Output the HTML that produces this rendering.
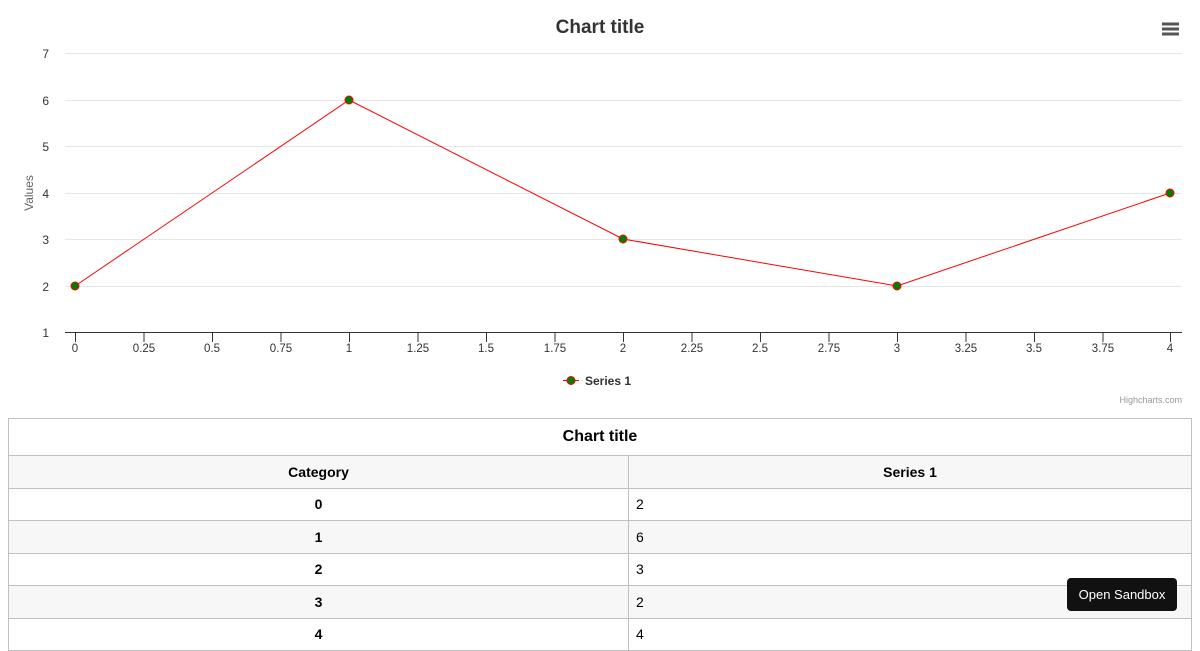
<!DOCTYPE html><html><head><style>
body{margin:0;width:1200px;height:630px;overflow:hidden;background:#fff;font-family:"Liberation Sans",sans-serif;position:relative}
table{position:absolute;left:8px;top:418px;width:1184px;border-collapse:collapse;font-size:14px;color:#000}
td,th{border:1px solid #c0c0c0;height:31.5px;padding:0 7px}
caption{border:1px solid #c0c0c0;border-bottom:none;height:36px;line-height:36px;font-weight:bold;font-size:16px}
th{background:#fff}
tr.h th{background:#f7f7f7}
tr.g td,tr.g th{background:#f7f7f7}
.b{position:absolute;left:1067px;top:578px;width:110px;height:33px;background:#111;color:#fff;border-radius:4px;font-size:13px;text-align:center;line-height:33px}
</style></head><body>
<svg width="1200" height="418" style="position:absolute;left:0;top:0" font-family="Liberation Sans,sans-serif">
<text x="600" y="33" text-anchor="middle" font-size="19" font-weight="bold" fill="#333">Chart title</text>
<g stroke="#555" stroke-width="3"><line x1="1162" y1="24" x2="1179" y2="24"/><line x1="1162" y1="29" x2="1179" y2="29"/><line x1="1162" y1="34" x2="1179" y2="34"/></g>
<g stroke="#e6e6e6"><line x1="65" x2="1182" y1="53.5" y2="53.5"/><line x1="65" x2="1182" y1="100.5" y2="100.5"/><line x1="65" x2="1182" y1="146.5" y2="146.5"/><line x1="65" x2="1182" y1="193.5" y2="193.5"/><line x1="65" x2="1182" y1="239.5" y2="239.5"/><line x1="65" x2="1182" y1="286.5" y2="286.5"/></g>
<line x1="65" x2="1182" y1="332.5" y2="332.5" stroke="#333"/>
<g font-size="12" fill="#333" text-anchor="end"><text x="49" y="58">7</text><text x="49" y="105">6</text><text x="49" y="151">5</text><text x="49" y="198">4</text><text x="49" y="244">3</text><text x="49" y="291">2</text><text x="49" y="337">1</text></g>
<text transform="translate(33,193) rotate(-90)" text-anchor="middle" font-size="12" fill="#666">Values</text>
<g font-size="11.5" fill="#333" text-anchor="middle" stroke="#333">
<line x1="75.5" x2="75.5" y1="332" y2="342"/><line x1="144" x2="144" y1="332" y2="342"/><line x1="212.5" x2="212.5" y1="332" y2="342"/><line x1="281" x2="281" y1="332" y2="342"/><line x1="349.5" x2="349.5" y1="332" y2="342"/><line x1="418" x2="418" y1="332" y2="342"/><line x1="486.5" x2="486.5" y1="332" y2="342"/><line x1="555" x2="555" y1="332" y2="342"/><line x1="623.5" x2="623.5" y1="332" y2="342"/><line x1="692" x2="692" y1="332" y2="342"/><line x1="760.5" x2="760.5" y1="332" y2="342"/><line x1="829" x2="829" y1="332" y2="342"/><line x1="897.5" x2="897.5" y1="332" y2="342"/><line x1="966" x2="966" y1="332" y2="342"/><line x1="1034.5" x2="1034.5" y1="332" y2="342"/><line x1="1103" x2="1103" y1="332" y2="342"/><line x1="1170.5" x2="1170.5" y1="332" y2="342"/>
<g stroke="none"><text x="75" y="352">0</text><text x="144" y="352">0.25</text><text x="212" y="352">0.5</text><text x="281" y="352">0.75</text><text x="349" y="352">1</text><text x="418" y="352">1.25</text><text x="486" y="352">1.5</text><text x="555" y="352">1.75</text><text x="623" y="352">2</text><text x="692" y="352">2.25</text><text x="760" y="352">2.5</text><text x="829" y="352">2.75</text><text x="897" y="352">3</text><text x="966" y="352">3.25</text><text x="1034" y="352">3.5</text><text x="1103" y="352">3.75</text><text x="1170" y="352">4</text></g></g>
<polyline points="75,286 349,100 623,239 897,286 1170,193" fill="none" stroke="red" stroke-width="1"/>
<g fill="green" stroke="red" stroke-width="1"><circle cx="75" cy="286" r="4"/><circle cx="349" cy="100" r="4"/><circle cx="623" cy="239" r="4"/><circle cx="897" cy="286" r="4"/><circle cx="1170" cy="193" r="4"/></g>
<line x1="563" x2="579" y1="380.5" y2="380.5" stroke="red"/><circle cx="571" cy="380.5" r="4" fill="green" stroke="red"/>
<text x="585" y="385" font-size="12" font-weight="bold" fill="#333">Series 1</text>
<text x="1182" y="403" text-anchor="end" font-size="9" fill="#999">Highcharts.com</text>
</svg>
<table><caption>Chart title</caption>
<tr class="h"><th>Category</th><th>Series 1</th></tr>
<tr><th>0</th><td>2</td></tr><tr class="g"><th>1</th><td>6</td></tr><tr><th>2</th><td>3</td></tr><tr class="g"><th>3</th><td>2</td></tr><tr><th>4</th><td>4</td></tr>
</table>
<div class="b">Open Sandbox</div>
</body></html>
